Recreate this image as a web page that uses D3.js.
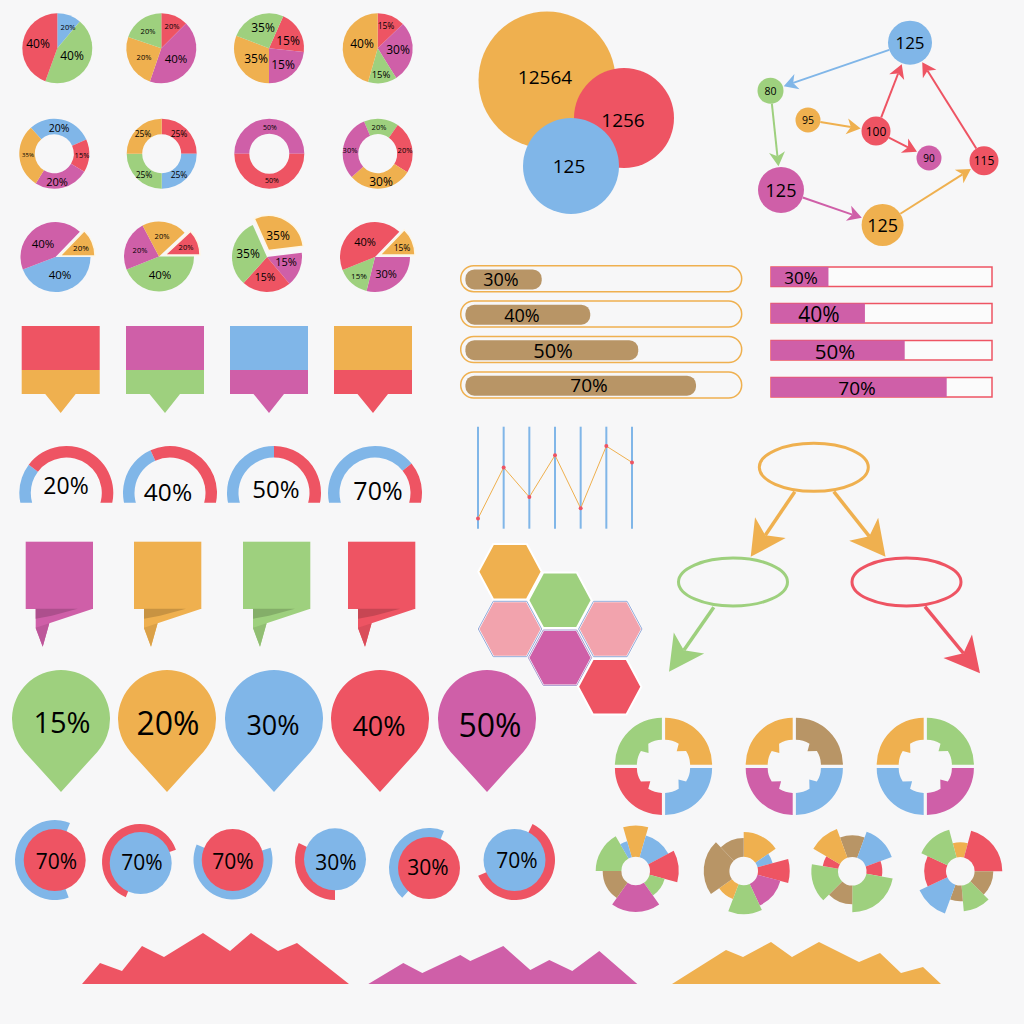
<!DOCTYPE html>
<html>
<head>
<meta charset="utf-8">
<style>
    html, body { margin: 0; padding: 0; background: #f7f7f8; }
    svg { display: block; }
    text { font-family: "Open Sans", sans-serif; fill: #000; text-anchor: middle; dominant-baseline: central; }
</style>
<script src="https://cdn.jsdelivr.net/npm/d3@7"></script>
</head>
<body>
<svg id="chart" width="1024" height="1024" viewBox="0 0 1024 1024"></svg>
<script>
// ---- values ----

// pie and donut slices, as degrees of sweep (the printed labels do not match the angles)
const pieValues = [
    [40, 160, 160], [45, 154, 90, 71], [72, 84, 111, 93], [46, 102, 48, 164],
    [108, 55, 91, 106], [90, 90, 90, 90], [180, 180], [58, 87, 106, 109],
    [46, 159, 155], [43, 158, 84, 75], [107, 57, 82, 114], [46, 104, 54, 156],
];
const pieLabels = [
    ["20%", "40%", "40%"], ["20%", "40%", "20%", "20%"], ["15%", "15%", "35%", "35%"], ["15%", "30%", "15%", "40%"],
    ["20%", "15%", "20%", "35%"], ["25%", "25%", "25%", "25%"], ["50%", "50%"], ["20%", "20%", "30%", "30%"],
    ["20%", "40%", "40%"], ["20%", "40%", "20%", "20%"], ["35%", "15%", "15%", "35%"], ["15%", "30%", "15%", "40%"],
];
const vennValues = [12564, 1256, 125];
const networkValues = [125, 80, 95, 100, 90, 115, 125, 125];
const networkLinks = [[0, 1], [1, 6], [2, 3], [3, 0], [3, 4], [5, 0], [6, 7], [7, 5]];
const barLabels = ["30%", "40%", "50%", "70%"];
const roundBarLengths = [28, 45.8, 63.4, 84.6];
const squareBarLengths = [26, 42.5, 60.5, 79.5];
const gaugeLabels = ["20%", "40%", "50%", "70%"];
const gaugeBlueShare = [24, 38, 50, 75];
const pinLabels = ["15%", "20%", "30%", "40%", "50%"];
const ringLabels = ["70%", "70%", "70%", "30%", "30%", "70%"];
const ringSweep = [222, 229, 221, 115, 160, 221];
const lineCategories = ["a", "b", "c", "d", "e", "f", "g"];
const lineValues = [10, 60, 31, 72, 20, 81, 65];
const quarterValues = [25, 25, 25, 25];
const roseSpans = [
    [32, 46, 43, 40, 70, 55, 60, 14],
    [55, 20, 30, 50, 46, 34, 81, 44],
    [40, 50, 30, 80, 45, 55, 20, 40],
    [30, 75, 45, 40, 25, 45, 50, 50],
];
const roseRadii = [
    [45.5, 37, 43, 30, 41, 33, 40, 31],
    [39, 30, 46, 38, 43, 30, 40, 33],
    [36, 42, 30, 41, 33, 41, 30, 45],
    [29, 42, 33, 40, 30, 45, 36, 43],
];
const ridgeSteps = [
    [0, 18, 40, 60, 82, 121, 148, 169, 196, 215, 267],
    [0, 35, 54, 92, 102, 135, 162, 181, 204, 231, 269],
    [0, 54, 71, 99, 120, 147, 187, 208, 229, 251, 269],
];
const ridgeHeights = [
    [0, 21, 13, 38, 27, 51, 33, 51, 33, 41, 0],
    [0, 21, 11, 29, 23, 38, 14, 24, 13, 33, 0],
    [0, 34, 27, 42, 27, 42, 22, 31, 11, 17, 0],
];

// ---- palette ----
const red = "#ee5463", orange = "#efb04f", green = "#9ed07e", blue = "#80b6e8", purple = "#cf5fa8", brown = "#b89566";
const pink = "#f2a3ad";

const rad = (deg) => (deg * Math.PI) / 180;
const svg = d3.select("#chart");

function label(x, y, txt, size) {
    svg.append("text").attr("x", x).attr("y", y).attr("font-size", size).text(txt);
}

// ---- pies and donuts ----
const pieSetup = [
    { c: [57.3, 48.3], start: 0, colors: [blue, green, red], at: [[68, 27, 7.5], [72, 55, 12], [38, 43, 12]] },
    { c: [161.3, 48.3], start: 0, colors: [red, purple, orange, green], at: [[172, 26, 7.5], [176, 58, 11.5], [144, 57, 7.5], [148, 31, 7.5]] },
    { c: [269, 48.3], start: 24, colors: [red, purple, orange, green], at: [[288, 40, 12], [283, 64, 12], [256, 58, 12], [263, 27, 12]] },
    { c: [377.7, 48.3], start: 0, colors: [red, purple, green, orange], at: [[386, 25, 8.5], [398, 49, 12], [381, 74, 9.5], [362, 43, 12]] },
    { c: [54.3, 153.7], inner: 19.5, start: -42, colors: [blue, red, purple, orange], at: [[59, 128, 10.5], [82, 155, 7.5], [57, 181, 11], [28, 155, 6]] },
    { c: [161.7, 153.7], inner: 19.5, start: 0, colors: [red, blue, green, orange], at: [[179, 133, 8.5], [179, 174, 8.5], [144, 174, 8.5], [143, 133, 8.5]] },
    { c: [269.3, 153.7], inner: 20, start: -90, colors: [purple, red], at: [[270, 127, 7], [272, 180, 7]] },
    { c: [377.7, 153.7], inner: 19.5, start: -23, colors: [green, red, orange, purple], at: [[379, 127, 7.5], [405, 150, 7.5], [381, 181, 12], [350, 150, 7.5]] },
    { c: [55.5, 257], start: 44, shift: [4.5, -1], colors: [orange, blue, purple], at: [[81, 247, 8], [60, 274, 11.5], [43, 243, 11.5]] },
    { c: [159, 256.5], start: 47, shift: [6, -1.5], colors: [red, green, purple, orange], at: [[186, 247, 7.5], [160, 274, 11.5], [140, 250, 7.5], [162, 236, 7.5]] },
    { c: [267, 257], start: -24, shift: [1.5, -6.5], colors: [orange, purple, red, green], at: [[278, 235, 12], [286, 261, 11], [265, 277, 10.5], [248, 253, 12]] },
    { c: [375, 257], start: 44, shift: [5, -2], colors: [orange, purple, green, red], at: [[402, 247, 8.5], [386, 273, 11], [359, 275, 8], [365, 241, 11]] },
];

pieSetup.forEach((p, i) => {
    const pie = d3.pie().sort(null)
        .startAngle(rad(p.start)).endAngle(rad(p.start + 360));
    const arc = d3.arc().innerRadius(p.inner || 0).outerRadius(35);
    const g = svg.append("g").attr("transform", `translate(${p.c})`);
    const slices = pie(pieValues[i]);
    // the pulled-out slice goes last so its pale edge sits on top
    const order = p.shift ? slices.slice(1).concat(slices[0]) : slices;
    order.forEach((s) => {
        const pulled = p.shift && s.index === 0;
        g.append("path")
            .attr("d", arc(s))
            .attr("fill", p.colors[s.index])
            .attr("transform", pulled ? `translate(${p.shift})` : null)
            .attr("stroke", pulled ? "#fdf6e6" : "none")
            .attr("stroke-width", pulled ? 1.5 : 0);
    });
    p.at.forEach((t, k) => label(t[0], t[1], pieLabels[i][k], t[2]));
});

// ---- overlapping circles ----
const vennSetup = [
    { c: [547, 80], color: orange, at: [545, 77] },
    { c: [624, 118], color: red, at: [623, 120] },
    { c: [571, 166], color: blue, at: [569, 166] },
];
const vennRadius = d3.scaleSqrt().domain([0, 12564]).range([0, 68.5]);
// 1256 and 125 are drawn far bigger than their area would be, so the radius is read separately
const vennDrawn = [vennRadius(12564), 50, 48];
vennSetup.forEach((v, i) => {
    svg.append("circle").attr("cx", v.c[0]).attr("cy", v.c[1]).attr("r", vennDrawn[i]).attr("fill", v.color);
    label(v.at[0], v.at[1], vennValues[i], 19);
});

// ---- arrows ----
function arrowHead(from, to, len, halfW, notch) {
    const a = Math.atan2(to[1] - from[1], to[0] - from[0]);
    const ux = Math.cos(a), uy = Math.sin(a);
    const base = [to[0] - ux * len, to[1] - uy * len];
    return [
        to,
        [base[0] - uy * halfW, base[1] + ux * halfW],
        [to[0] - ux * notch, to[1] - uy * notch],
        [base[0] + uy * halfW, base[1] - ux * halfW],
    ];
}
const polygon = d3.line();

function arrow(from, to, color, width, len, halfW, notch) {
    const head = arrowHead(from, to, len, halfW, notch);
    svg.append("line")
        .attr("x1", from[0]).attr("y1", from[1]).attr("x2", head[2][0]).attr("y2", head[2][1])
        .attr("stroke", color).attr("stroke-width", width);
    svg.append("path").attr("d", polygon(head) + "Z").attr("fill", color);
}

// ---- node network ----
const nodeSetup = [
    { c: [910, 42.7], r: 22, color: blue, size: 17 },
    { c: [770.5, 90.7], r: 13, color: green, size: 10.5 },
    { c: [808, 120], r: 12.5, color: orange, size: 10.5 },
    { c: [876, 131], r: 14.5, color: red, size: 12 },
    { c: [929, 158], r: 12.5, color: purple, size: 10 },
    { c: [984, 160.7], r: 14.5, color: red, size: 12 },
    { c: [781, 190], r: 23, color: purple, size: 18 },
    { c: [882.6, 225], r: 21, color: orange, size: 18 },
];
networkLinks.forEach(([a, b]) => {
    const s = nodeSetup[a], t = nodeSetup[b];
    const ang = Math.atan2(t.c[1] - s.c[1], t.c[0] - s.c[0]);
    const from = [s.c[0] + Math.cos(ang) * s.r, s.c[1] + Math.sin(ang) * s.r];
    const to = [t.c[0] - Math.cos(ang) * (t.r + 1), t.c[1] - Math.sin(ang) * (t.r + 1)];
    arrow(from, to, s.color, 2, 14, 8, 10);
});
nodeSetup.forEach((n, i) => {
    svg.append("circle").attr("cx", n.c[0]).attr("cy", n.c[1]).attr("r", n.r).attr("fill", n.color);
    label(n.c[0], n.c[1], networkValues[i], n.size);
});

// ---- progress bars ----
const roundX = d3.scaleLinear().domain([0, 100]).range([465.4, 738]);
const roundY = [265.7, 301, 336.5, 372];
const roundText = [[501, 279, 18], [522, 315, 18], [553, 350, 20], [589, 385, 19]];
roundBarLengths.forEach((v, i) => {
    svg.append("rect").attr("x", 460.7).attr("y", roundY[i]).attr("width", 281).attr("height", 26)
        .attr("rx", 13).attr("fill", "none").attr("stroke", orange).attr("stroke-width", 1.5);
    svg.append("rect").attr("x", roundX(0)).attr("y", roundY[i] + 3.7).attr("width", roundX(v) - roundX(0)).attr("height", 20)
        .attr("rx", 9).attr("fill", brown);
    label(roundText[i][0], roundText[i][1], barLabels[i], roundText[i][2]);
});

const squareX = d3.scaleLinear().domain([0, 100]).range([771, 992]);
const squareY = [267, 303.5, 340.5, 377.5];
const squareText = [[801, 277, 17], [819, 314, 21], [835, 351, 20.5], [857, 388, 19]];
squareBarLengths.forEach((v, i) => {
    svg.append("rect").attr("x", squareX(0)).attr("y", squareY[i]).attr("width", squareX(100) - squareX(0)).attr("height", 19.5)
        .attr("fill", "#fbfbfb").attr("stroke", red).attr("stroke-width", 1.5);
    svg.append("rect").attr("x", squareX(0)).attr("y", squareY[i]).attr("width", squareX(v) - squareX(0)).attr("height", 19.5)
        .attr("fill", purple);
    label(squareText[i][0], squareText[i][1], barLabels[i], squareText[i][2]);
});

// ---- two-band callouts ----
[[21.7, red, orange], [126, purple, green], [230, blue, purple], [334, orange, red]].forEach(([x, top, low]) => {
    svg.append("rect").attr("x", x).attr("y", 326).attr("width", 78).attr("height", 44).attr("fill", top);
    svg.append("path")
        .attr("d", polygon([[x, 370], [x + 78, 370], [x + 78, 394], [x + 54, 394], [x + 39, 413], [x + 23.5, 394], [x, 394]]) + "Z")
        .attr("fill", low);
});

// ---- half gauges ----
const gaugeAngle = d3.scaleLinear().domain([0, 100]).range([-102, 102]);
const gaugeArc = d3.arc().innerRadius(35.5).outerRadius(47);
svg.append("clipPath").attr("id", "gaugeClip")
    .append("rect").attr("x", 0).attr("y", 400).attr("width", 1024).attr("height", 102.7);
const gaugeGroup = svg.append("g").attr("clip-path", "url(#gaugeClip)");
const gaugeText = [[66, 485, 23], [168, 491, 24.5], [276, 488, 24], [378, 490, 25]];
[66.3, 170, 274, 375].forEach((cx, i) => {
    const mid = rad(gaugeAngle(gaugeBlueShare[i]));
    const g = gaugeGroup.append("g").attr("transform", `translate(${cx},493)`);
    g.append("path").attr("d", gaugeArc({ startAngle: rad(-125), endAngle: mid })).attr("fill", blue);
    g.append("path").attr("d", gaugeArc({ startAngle: mid, endAngle: rad(125) })).attr("fill", red);
});
gaugeText.forEach((t, i) => label(t[0], t[1], gaugeLabels[i], t[2]));

// ---- folded ribbons ----
[[25.7, purple], [134, orange], [243, green], [348, red]].forEach(([x, color]) => {
    const y = 541.7;
    const c = d3.color(color);
    const pts = (list) => polygon(list.map((p) => [x + p[0], y + p[1]])) + "Z";
    svg.append("rect").attr("x", x).attr("y", y).attr("width", 67.3).attr("height", 67.3).attr("fill", color);
    svg.append("path").attr("d", pts([[10, 67], [67.3, 67], [23.6, 81.6], [17, 105], [10, 86.6]])).attr("fill", color);
    svg.append("path").attr("d", pts([[10, 67], [52, 67], [26, 74], [10, 77]])).attr("fill", c.darker(0.5));
    svg.append("path").attr("d", pts([[10, 86], [23.6, 81.6], [17, 105]])).attr("fill", c.darker(0.25));
});

// ---- line chart ----
const lineX = d3.scalePoint().domain(lineCategories).range([478, 632]);
const lineY = d3.scaleLinear().domain([0, 100]).range([528.7, 426.7]);
lineCategories.forEach((c) => {
    svg.append("line").attr("x1", lineX(c)).attr("x2", lineX(c)).attr("y1", lineY(0)).attr("y2", lineY(100))
        .attr("stroke", blue).attr("stroke-width", 2);
});
svg.append("path")
    .attr("d", d3.line().x((d, i) => lineX(lineCategories[i])).y((d) => lineY(d))(lineValues))
    .attr("fill", "none").attr("stroke", orange).attr("stroke-width", 1);
svg.selectAll(".dot").data(lineValues).join("circle")
    .attr("class", "dot")
    .attr("cx", (d, i) => lineX(lineCategories[i])).attr("cy", (d) => lineY(d)).attr("r", 2).attr("fill", red);

// ---- hexagons ----
const hexSetup = [
    { c: [510, 571.7], fill: orange },
    { c: [560, 600.3], fill: green },
    { c: [510, 629], fill: pink, edge: "#93a9d8" },
    { c: [610.3, 629], fill: pink, edge: "#93a9d8" },
    { c: [560, 657.7], fill: purple, edge: "#a99ad0" },
    { c: [609.7, 686.7], fill: red },
];
hexSetup.forEach((h) => {
    const [x, y] = h.c;
    const shape = [[x - 31.7, y], [x - 16.8, y - 27.7], [x + 16.8, y - 27.7], [x + 31.7, y], [x + 16.8, y + 27.7], [x - 16.8, y + 27.7]];
    svg.append("path").attr("d", polygon(shape) + "Z").attr("fill", h.fill)
        .attr("stroke", "#ffffff").attr("stroke-width", 2);
    if (h.edge) {
        svg.append("path").attr("d", polygon(shape) + "Z").attr("fill", "none")
            .attr("stroke", h.edge).attr("stroke-width", 1);
    }
});

// ---- ellipse flow ----
[[813.8, 467.3, orange], [733, 582, green], [906.5, 582, red]].forEach(([x, y, color]) => {
    svg.append("ellipse").attr("cx", x).attr("cy", y).attr("rx", 54.5).attr("ry", 24)
        .attr("fill", "none").attr("stroke", color).attr("stroke-width", 3);
});
arrow([794.8, 491.7], [750.7, 556.7], orange, 3.5, 35, 18.5, 26);
arrow([833.8, 491.7], [885.5, 556.7], orange, 3.5, 35, 18.5, 26);
arrow([713.8, 607.3], [669, 671.7], green, 3.5, 35, 18.5, 26);
arrow([925, 606.7], [980, 673.3], red, 3.5, 35, 18.5, 26);

// ---- map pins ----
const pinText = [[62, 721, 29], [168, 722, 32], [273, 724, 27], [379, 725, 27], [490, 724, 32]];
[[61, green], [167, orange], [274, blue], [380, red], [487, purple]].forEach(([x, color], i) => {
    const cy = 719, r = 49, tipY = 792;
    const sweep = Math.acos(r / (tipY - cy));
    const p = d3.path();
    p.moveTo(x, tipY);
    p.lineTo(x + Math.sin(sweep) * r, cy + Math.cos(sweep) * r);
    p.arc(x, cy, r, Math.PI / 2 - sweep, Math.PI / 2 + sweep, true);
    p.closePath();
    svg.append("path").attr("d", p.toString()).attr("fill", color);
    label(pinText[i][0], pinText[i][1], pinLabels[i], pinText[i][2]);
});

// ---- circles with an offset ring ----
const ringSetup = [
    { c: [55, 860], rOut: 40, start: 160, ring: blue, disc: red, dc: [54.7, 860], at: [56.5, 861] },
    { c: [140, 862], rOut: 38, start: 202, ring: red, disc: blue, dc: [140.7, 863], at: [142, 862] },
    { c: [233, 860], rOut: 39.5, start: 72, ring: blue, disc: red, dc: [232.7, 860], at: [233, 861] },
    { c: [335, 860], rOut: 40, start: 180, ring: red, disc: blue, dc: [335, 859.3], at: [336, 862] },
    { c: [429, 868], rOut: 40, start: 222, ring: blue, disc: red, dc: [429, 868], at: [428, 867] },
    { c: [515, 860], rOut: 40, start: 26, ring: red, disc: blue, dc: [514.5, 860], at: [517, 860] },
];
ringSetup.forEach((s, i) => {
    const arc = d3.arc().innerRadius(28).outerRadius(s.rOut);
    svg.append("path").attr("transform", `translate(${s.c})`)
        .attr("d", arc({ startAngle: rad(s.start), endAngle: rad(s.start + ringSweep[i]) }))
        .attr("fill", s.ring);
    svg.append("circle").attr("cx", s.dc[0]).attr("cy", s.dc[1]).attr("r", 31).attr("fill", s.disc);
    label(s.at[0], s.at[1], ringLabels[i], 21);
});

// ---- quarter rings with notched hole ----
function quarterPath(a0, a1) {
    const pt = (deg, r) => [Math.sin(rad(deg)) * r, -Math.cos(rad(deg)) * r];
    const midA = (a0 + a1) / 2;
    const inner = 25, tooth = 17.7, outer = 47;
    const p = d3.path();
    p.moveTo(...pt(a0, outer));
    p.arc(0, 0, outer, rad(a0 - 90), rad(a1 - 90));
    p.lineTo(...pt(a1, inner));
    p.arc(0, 0, inner, rad(a1 - 90), rad(midA + 12 - 90), true);
    p.lineTo(...pt(midA - 4, tooth));
    p.lineTo(...pt(midA - 12, inner));
    p.arc(0, 0, inner, rad(midA - 12 - 90), rad(a0 - 90), true);
    p.closePath();
    return p.toString();
}
const quarterPie = d3.pie().sort(null);
[
    [663.5, [orange, blue, red, green]],
    [794.3, [brown, blue, purple, orange]],
    [925.3, [green, purple, blue, orange]],
].forEach(([cx, colors]) => {
    const g = svg.append("g").attr("transform", `translate(${cx},766.3)`);
    quarterPie(quarterValues).forEach((s, i) => {
        const a0 = (s.startAngle * 180) / Math.PI, a1 = (s.endAngle * 180) / Math.PI;
        const dx = i < 2 ? 1.6 : -1.6, dy = i === 0 || i === 3 ? -1.6 : 1.6;
        g.append("path").attr("d", quarterPath(a0, a1)).attr("fill", colors[i])
            .attr("transform", `translate(${dx},${dy})`);
    });
});

// ---- rose charts ----
const roseSetup = [
    { c: [635.7, 871], start: -16, colors: [orange, blue, red, green, purple, brown, green, blue] },
    { c: [743.7, 871], start: 0, colors: [orange, blue, red, purple, green, orange, brown, brown] },
    { c: [852.3, 871.3], start: -20, colors: [brown, blue, red, green, brown, green, red, orange] },
    { c: [960.3, 871.3], start: -15, colors: [orange, red, brown, green, brown, blue, red, green] },
];
const roseRadius = d3.scaleLinear().domain([0, 50]).range([0, 50]);
roseSetup.forEach((r, i) => {
    const slices = d3.pie().sort(null).startAngle(rad(r.start)).endAngle(rad(r.start + 360))(roseSpans[i]);
    const g = svg.append("g").attr("transform", `translate(${r.c})`);
    slices.forEach((s, k) => {
        const arc = d3.arc().innerRadius(14.3).outerRadius(roseRadius(roseRadii[i][k]));
        g.append("path").attr("d", arc(s)).attr("fill", r.colors[k]);
    });
});

// ---- ridge area charts ----
[[82, red], [368.3, purple], [672, orange]].forEach(([x0, color], i) => {
    const x = d3.scaleLinear().domain([0, 100]).range([x0, x0 + 100]);
    const y = d3.scaleLinear().domain([0, 60]).range([984, 924]);
    const area = d3.area()
        .x((d, k) => x(ridgeSteps[i][k]))
        .y0(y(0))
        .y1((d) => y(d));
    svg.append("path").attr("d", area(ridgeHeights[i])).attr("fill", color);
});
</script>
</body>
</html>
